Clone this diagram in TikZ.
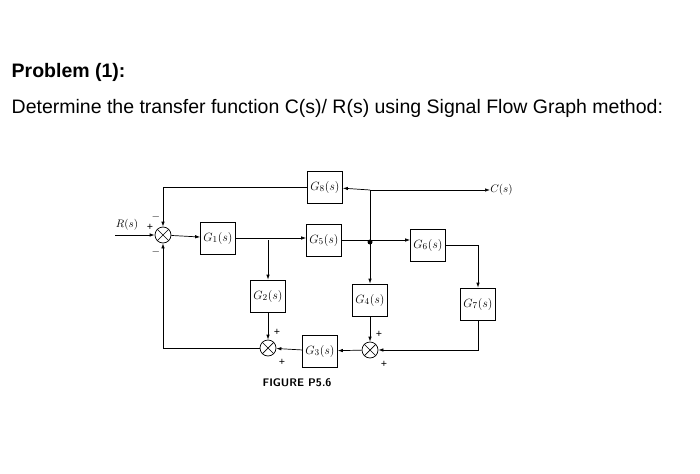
\documentclass[tikz,border=0pt]{standalone}
\usepackage{fontspec}
\setmainfont{Liberation Sans}
\newfontfamily\diag{Liberation Serif}
\usetikzlibrary{arrows.meta}
\begin{document}
\begin{tikzpicture}[x=1pt,y=-1pt, line width=0.7pt,
  blk/.style={draw, minimum width=35pt, minimum height=32pt, inner sep=0pt, font=\fontsize{12.5}{12.5}\selectfont},
  sumj/.style={draw, circle, minimum size=16pt, inner sep=0pt,
    path picture={\draw (path picture bounding box.south west)--(path picture bounding box.north east)
      (path picture bounding box.north west)--(path picture bounding box.south east);}},
  sig/.style={-{Latex[length=5pt,width=3.5pt]}},
  sgn/.style={font=\diag\fontsize{11}{11}\selectfont\bfseries, inner sep=0pt},
  lbl/.style={font=\fontsize{11}{11}\selectfont, inner sep=0pt}]
\useasboundingbox (0,0) rectangle (700,473);
\node[anchor=west, font=\bfseries\fontsize{19.5}{19.5}\selectfont] (t1) at (8,72) {Problem (1):};
\node[anchor=west, font=\fontsize{19.5}{19.5}\selectfont] (t2) at (8,108) {Determine the transfer function C(s)/ R(s) using Signal Flow Graph method:};

\node[sumj] (s1) at (163,235) {};
\node[sumj] (s2) at (268,348) {};
\node[sumj] (s3) at (370,350) {};
\node[blk] (g1) at (218,238) {$G_1(s)$};
\node[blk] (g5) at (324,240) {$G_5(s)$};
\node[blk] (g6) at (428,245) {$G_6(s)$};
\node[blk] (g8) at (325,187) {$G_8(s)$};
\node[blk] (g2) at (268,296) {$G_2(s)$};
\node[blk] (g4) at (370,300) {$G_4(s)$};
\node[blk] (g7) at (478,304) {$G_7(s)$};
\node[blk] (g3) at (320,351) {$G_3(s)$};
\node[lbl, anchor=west] (cs) at (490,190) {$C(s)$};
\node[lbl] (rs) at (127,225) {$R(s)$};
\coordinate (rin) at (115,235);
\coordinate (b1) at (268,240);
\coordinate (b2) at (370,190);
\fill (370,242) circle (2.5pt);

\draw[sig] (rin) -- (s1);
\draw[sig] (s1) -- (g1);
\draw[sig] (g1.east) -- (g5.west |- g1.east);
\draw[sig] (b1) -- (g2);
\draw[sig] (g5.east) -| (g4.north) ;
\draw[sig] (g5.east -| g4) -- (g6.west |- g5.east);
\draw[sig] (b2) -- (cs.west);
\draw[sig] (b2) -- (g8);
\draw[sig] (g8) -| (s1);
\draw[sig] (g6.east) -| (g7);
\draw[sig] (g7) |- (s3);
\draw[sig] (g4) -- (s3);
\draw[sig] (s3) -- (g3);
\draw[sig] (g3) -- (s2);
\draw[sig] (g2) -- (s2);
\draw[sig] (s2) -| (s1);
\draw (b2) -- (370,242);

\node[sgn] (p1) at (150,227) {+};
\node[sgn] (m1) at (156,217) {$-$};
\node[sgn] (m2) at (156,252) {$-$};
\node[sgn] (p2) at (277,332) {+};
\node[sgn] (p3) at (282,362) {+};
\node[sgn] (p4) at (379,334) {+};
\node[sgn] (p5) at (384,364) {+};
\node[font=\bfseries\fontsize{11}{11}\selectfont\sffamily] (fig) at (297,383) {FIGURE P5.6};
\end{tikzpicture}
\end{document}
